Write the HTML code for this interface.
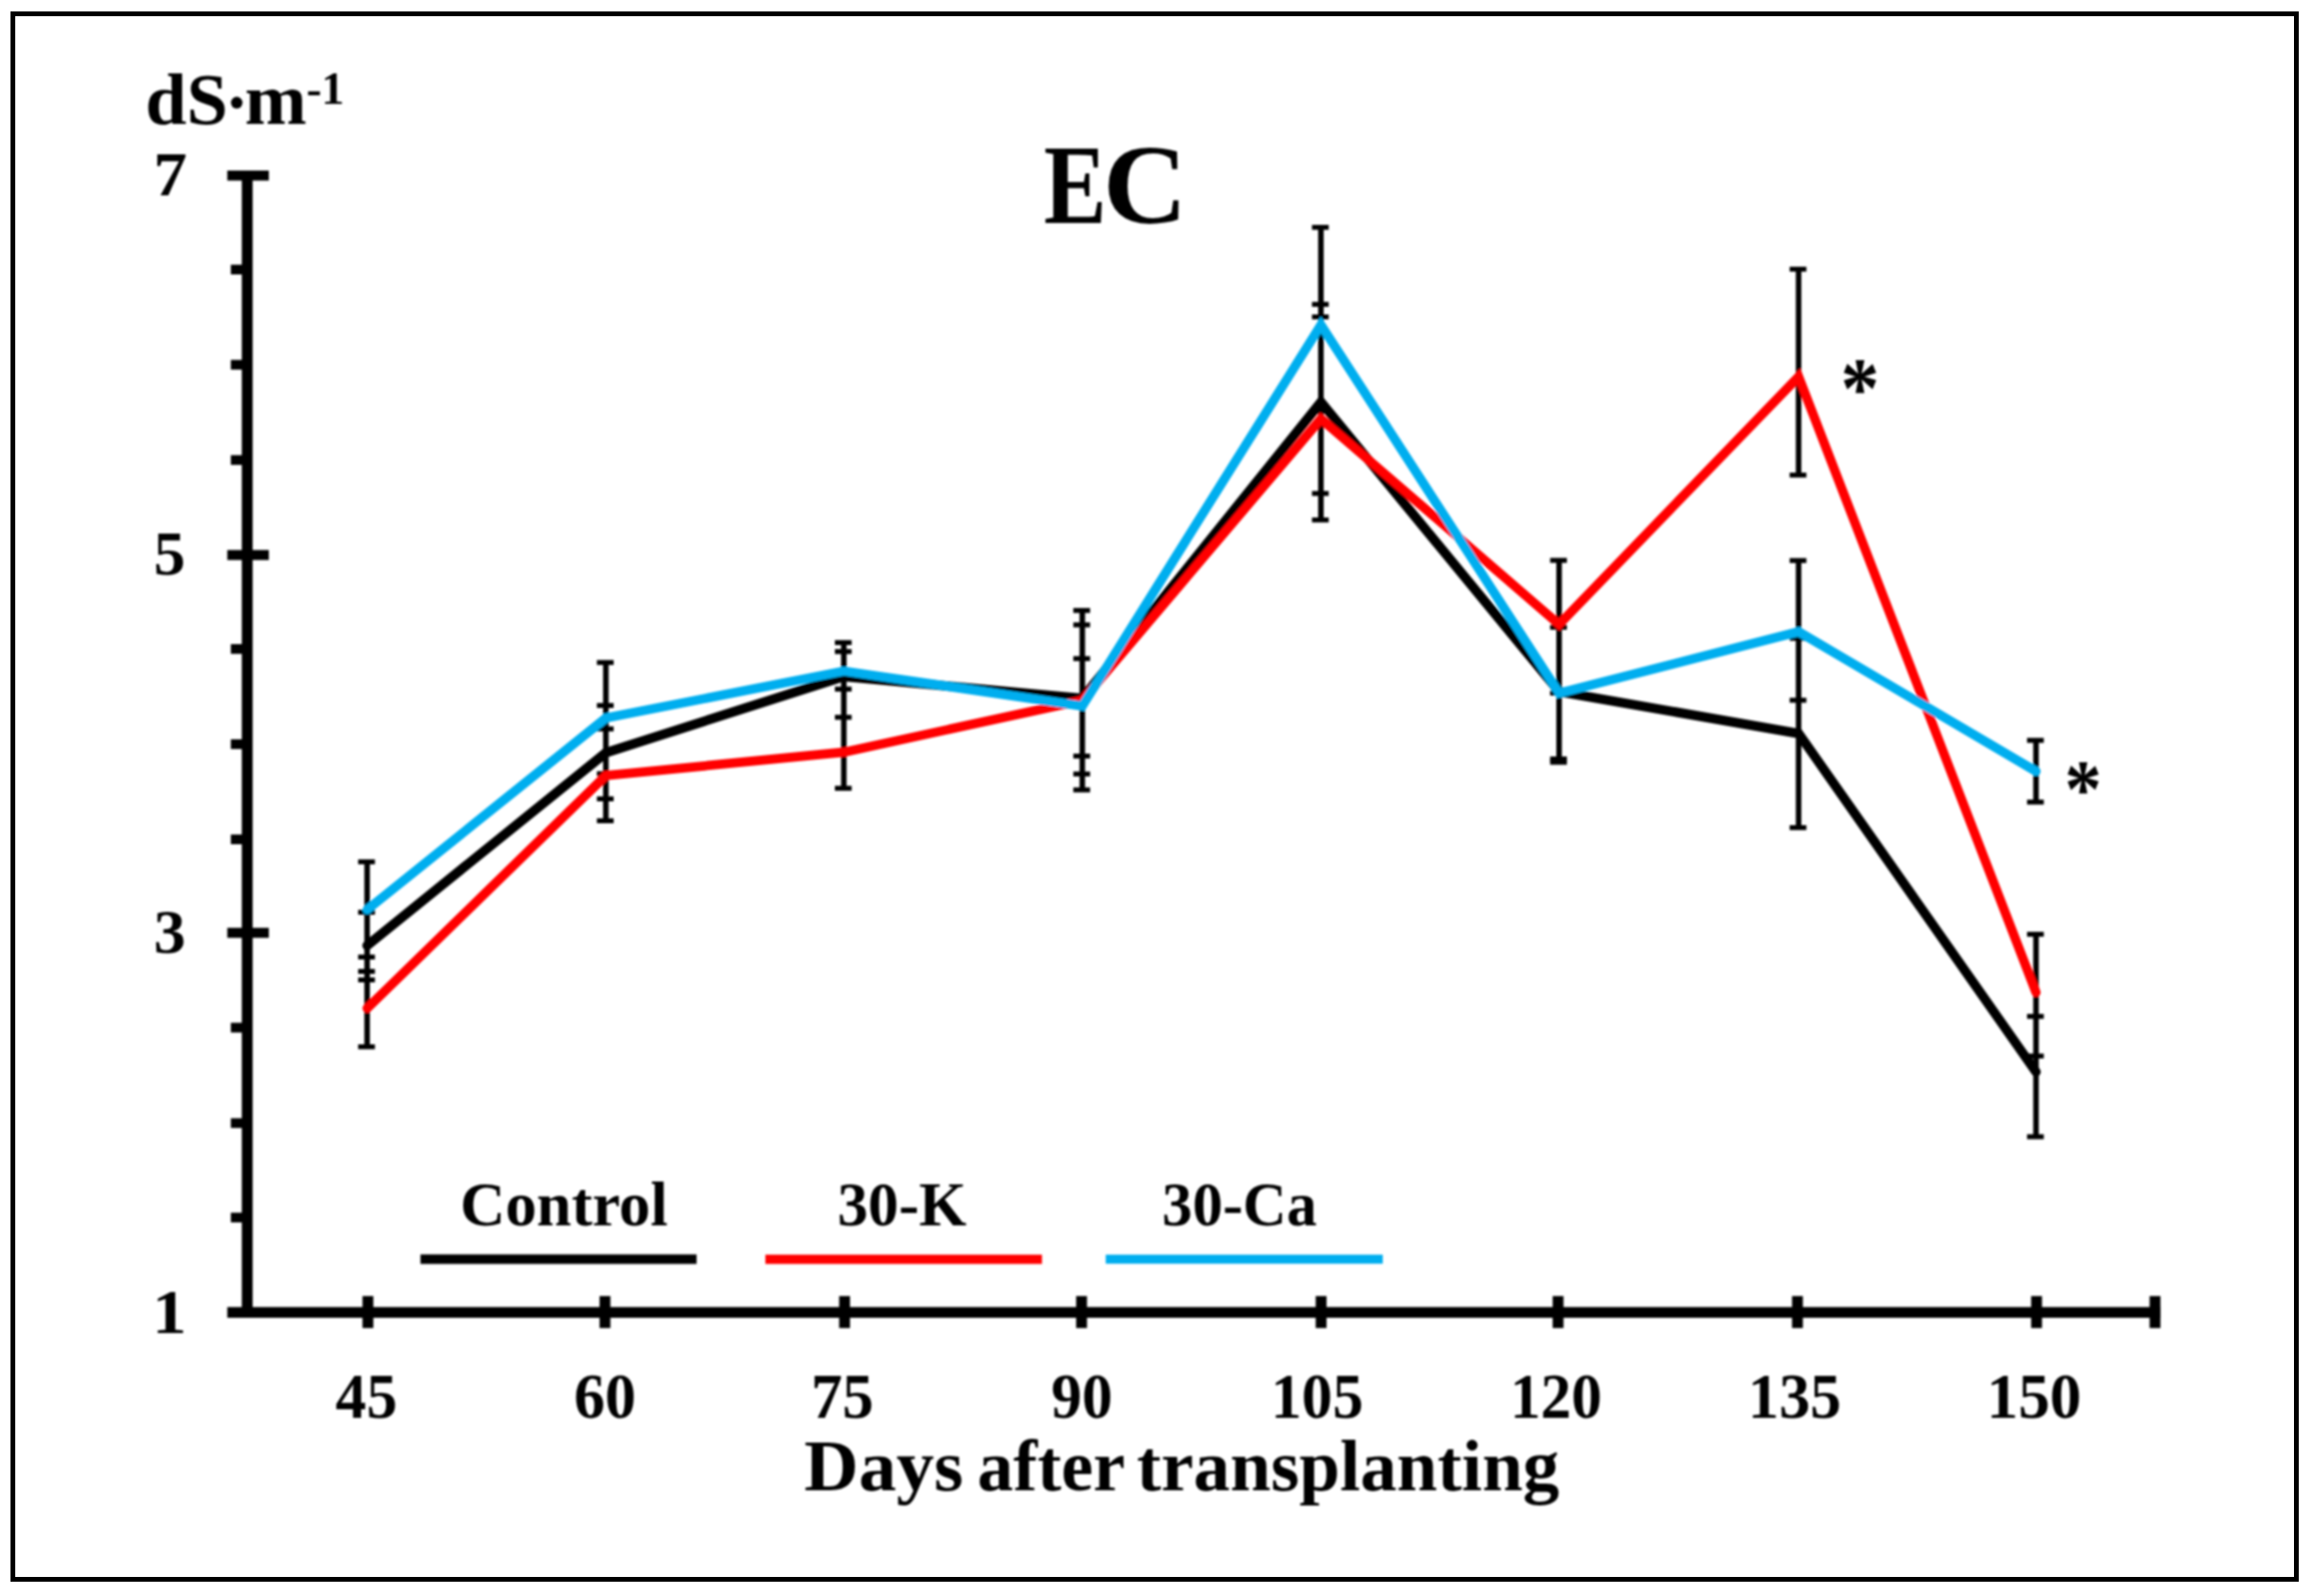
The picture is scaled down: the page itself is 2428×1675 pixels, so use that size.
<!DOCTYPE html>
<html lang="en"><head><meta charset="utf-8"><title>EC - Days after transplanting</title>
<style>
html,body{margin:0;padding:0;background:#fff;}
body{width:2428px;height:1675px;overflow:hidden;}
svg{display:block;}
text{font-family:"Liberation Serif", "DejaVu Serif", serif;font-weight:bold;fill:#000;}
</style></head><body>
<svg width="2428" height="1675" viewBox="0 0 2428 1675">
<rect x="0" y="0" width="2428" height="1675" fill="#fff"/>
<rect x="13.5" y="14.5" width="2396" height="1643" fill="none" stroke="#000" stroke-width="5"/>
<defs><filter id="soft" filterUnits="userSpaceOnUse" x="0" y="0" width="2428" height="1675"><feGaussianBlur stdDeviation="0.8"/></filter></defs>
<g filter="url(#soft)">
<g stroke="#000" fill="none">
<line x1="259.4" y1="178.9" x2="259.4" y2="1383.1" stroke-width="11.4"/>
<line x1="238.5" y1="1377.4" x2="2266.9" y2="1377.4" stroke-width="11.4"/>
<line x1="238.5" y1="184.2" x2="282.1" y2="184.2" stroke-width="10.5"/>
<line x1="238.5" y1="582.6" x2="282.1" y2="582.6" stroke-width="10.5"/>
<line x1="238.5" y1="978.9" x2="282.1" y2="978.9" stroke-width="10.5"/>
<line x1="242.2" y1="282.9" x2="259.4" y2="282.9" stroke-width="10.2"/>
<line x1="242.2" y1="382.8" x2="259.4" y2="382.8" stroke-width="10.2"/>
<line x1="242.2" y1="482.8" x2="259.4" y2="482.8" stroke-width="10.2"/>
<line x1="242.2" y1="681.1" x2="259.4" y2="681.1" stroke-width="10.2"/>
<line x1="242.2" y1="781.0" x2="259.4" y2="781.0" stroke-width="10.2"/>
<line x1="242.2" y1="880.9" x2="259.4" y2="880.9" stroke-width="10.2"/>
<line x1="242.2" y1="1078.5" x2="259.4" y2="1078.5" stroke-width="10.2"/>
<line x1="242.2" y1="1178.7" x2="259.4" y2="1178.7" stroke-width="10.2"/>
<line x1="242.2" y1="1277.8" x2="259.4" y2="1277.8" stroke-width="10.2"/>
</g>
<g stroke="#000" stroke-width="11.4" fill="none">
<line x1="386.05" y1="1360.2" x2="386.05" y2="1393.8"/>
<line x1="634.80" y1="1360.2" x2="634.80" y2="1393.8"/>
<line x1="886.20" y1="1360.2" x2="886.20" y2="1393.8"/>
<line x1="1134.85" y1="1360.2" x2="1134.85" y2="1393.8"/>
<line x1="1386.20" y1="1360.2" x2="1386.20" y2="1393.8"/>
<line x1="1634.85" y1="1360.2" x2="1634.85" y2="1393.8"/>
<line x1="1886.00" y1="1360.2" x2="1886.00" y2="1393.8"/>
<line x1="2136.90" y1="1360.2" x2="2136.90" y2="1393.8"/>
<line x1="2261.20" y1="1360.2" x2="2261.20" y2="1393.8"/>
</g>
<g stroke="#000" fill="none">
<line x1="385.2" y1="904.5" x2="385.2" y2="1098.5" stroke-width="5.8"/>
<line x1="375.8" y1="904.5" x2="393.4" y2="904.5" stroke-width="5.2"/>
<line x1="375.8" y1="957.4" x2="393.4" y2="957.4" stroke-width="5.2"/>
<line x1="375.8" y1="1004.4" x2="393.4" y2="1004.4" stroke-width="5.2"/>
<line x1="375.8" y1="1019.5" x2="393.4" y2="1019.5" stroke-width="5.2"/>
<line x1="375.8" y1="1028.4" x2="393.4" y2="1028.4" stroke-width="5.2"/>
<line x1="375.8" y1="1098.6" x2="393.4" y2="1098.6" stroke-width="5.2"/>
<line x1="635.7" y1="695.3" x2="635.7" y2="861.4" stroke-width="5.8"/>
<line x1="626.3" y1="695.3" x2="643.9" y2="695.3" stroke-width="5.2"/>
<line x1="626.3" y1="740.4" x2="643.9" y2="740.4" stroke-width="5.2"/>
<line x1="626.3" y1="765.0" x2="643.9" y2="765.0" stroke-width="5.2"/>
<line x1="626.3" y1="812.0" x2="643.9" y2="812.0" stroke-width="5.2"/>
<line x1="626.3" y1="838.4" x2="643.9" y2="838.4" stroke-width="5.2"/>
<line x1="626.3" y1="861.4" x2="643.9" y2="861.4" stroke-width="5.2"/>
<line x1="885.4" y1="674.4" x2="885.4" y2="827.3" stroke-width="5.8"/>
<line x1="876.0" y1="674.4" x2="893.6" y2="674.4" stroke-width="5.2"/>
<line x1="876.0" y1="683.8" x2="893.6" y2="683.8" stroke-width="5.2"/>
<line x1="876.0" y1="723.2" x2="893.6" y2="723.2" stroke-width="5.2"/>
<line x1="876.0" y1="752.8" x2="893.6" y2="752.8" stroke-width="5.2"/>
<line x1="876.0" y1="827.3" x2="893.6" y2="827.3" stroke-width="5.2"/>
<line x1="1135.6" y1="640.7" x2="1135.6" y2="829.0" stroke-width="5.8"/>
<line x1="1126.2" y1="640.7" x2="1143.8" y2="640.7" stroke-width="5.2"/>
<line x1="1126.2" y1="655.8" x2="1143.8" y2="655.8" stroke-width="5.2"/>
<line x1="1126.2" y1="691.2" x2="1143.8" y2="691.2" stroke-width="5.2"/>
<line x1="1126.2" y1="793.5" x2="1143.8" y2="793.5" stroke-width="5.2"/>
<line x1="1126.2" y1="812.3" x2="1143.8" y2="812.3" stroke-width="5.2"/>
<line x1="1126.2" y1="829.0" x2="1143.8" y2="829.0" stroke-width="5.2"/>
<line x1="1386.0" y1="238.6" x2="1386.0" y2="545.7" stroke-width="5.8"/>
<line x1="1376.6" y1="238.6" x2="1394.2" y2="238.6" stroke-width="5.2"/>
<line x1="1376.6" y1="319.4" x2="1394.2" y2="319.4" stroke-width="5.2"/>
<line x1="1376.6" y1="332.6" x2="1394.2" y2="332.6" stroke-width="5.2"/>
<line x1="1376.6" y1="517.9" x2="1394.2" y2="517.9" stroke-width="5.2"/>
<line x1="1376.6" y1="545.7" x2="1394.2" y2="545.7" stroke-width="5.2"/>
<line x1="1635.9" y1="588.1" x2="1635.9" y2="800.0" stroke-width="5.8"/>
<line x1="1626.5" y1="588.1" x2="1644.1" y2="588.1" stroke-width="5.2"/>
<line x1="1626.5" y1="658.3" x2="1644.1" y2="658.3" stroke-width="5.2"/>
<line x1="1626.5" y1="727.4" x2="1644.1" y2="727.4" stroke-width="5.2"/>
<line x1="1626.5" y1="796.5" x2="1644.1" y2="796.5" stroke-width="5.2"/>
<line x1="1626.5" y1="800.0" x2="1644.1" y2="800.0" stroke-width="5.2"/>
<line x1="1887.2" y1="282.5" x2="1887.2" y2="498.6" stroke-width="5.8"/>
<line x1="1877.8" y1="282.5" x2="1895.4" y2="282.5" stroke-width="5.2"/>
<line x1="1877.8" y1="498.6" x2="1895.4" y2="498.6" stroke-width="5.2"/>
<line x1="1887.2" y1="588.3" x2="1887.2" y2="868.6" stroke-width="5.8"/>
<line x1="1877.8" y1="588.3" x2="1895.4" y2="588.3" stroke-width="5.2"/>
<line x1="1877.8" y1="669.9" x2="1895.4" y2="669.9" stroke-width="5.2"/>
<line x1="1877.8" y1="734.9" x2="1895.4" y2="734.9" stroke-width="5.2"/>
<line x1="1877.8" y1="868.6" x2="1895.4" y2="868.6" stroke-width="5.2"/>
<line x1="2136.3" y1="777.0" x2="2136.3" y2="841.8" stroke-width="5.8"/>
<line x1="2126.9" y1="777.0" x2="2144.5" y2="777.0" stroke-width="5.2"/>
<line x1="2126.9" y1="841.8" x2="2144.5" y2="841.8" stroke-width="5.2"/>
<line x1="2136.3" y1="980.5" x2="2136.3" y2="1193.0" stroke-width="5.8"/>
<line x1="2126.9" y1="980.5" x2="2144.5" y2="980.5" stroke-width="5.2"/>
<line x1="2126.9" y1="1066.7" x2="2144.5" y2="1066.7" stroke-width="5.2"/>
<line x1="2126.9" y1="1108.3" x2="2144.5" y2="1108.3" stroke-width="5.2"/>
<line x1="2126.9" y1="1193.0" x2="2144.5" y2="1193.0" stroke-width="5.2"/>
</g>
<polyline points="385.2,992.3 635.7,790.0 885.4,710.0 1135.6,733.0 1386.0,422.0 1635.9,726.0 1887.2,769.7 2136.3,1125.0" fill="none" stroke="#000000" stroke-width="10.0" stroke-linejoin="miter" stroke-miterlimit="4" stroke-linecap="round"/>
<polyline points="385.2,1058.2 635.7,814.0 885.4,789.4 1135.6,735.0 1386.0,439.5 1635.9,655.3 1887.2,395.3 2136.3,1041.5" fill="none" stroke="#ff0000" stroke-width="9.7" stroke-linejoin="miter" stroke-miterlimit="4" stroke-linecap="round"/>
<polyline points="385.2,954.8 635.7,753.6 885.4,704.3 1135.6,741.0 1386.0,341.0 1635.9,727.5 1887.2,663.0 2136.3,809.5" fill="none" stroke="#00aeef" stroke-width="9.7" stroke-linejoin="miter" stroke-miterlimit="4" stroke-linecap="round"/>
<line x1="441.2" y1="1321.5" x2="730.9" y2="1321.5" stroke="#000" stroke-width="10"/>
<line x1="803.1" y1="1321.6" x2="1093.3" y2="1321.6" stroke="#ff0000" stroke-width="9.6"/>
<line x1="1160.2" y1="1321.5" x2="1450.9" y2="1321.5" stroke="#00aeef" stroke-width="9.6"/>
<text transform="matrix(0.9892 0 0 1.0000 482.71 1286.20)" font-size="66.5">Control</text>
<text transform="matrix(0.9650 0 0 1.0000 878.73 1286.30)" font-size="66.5">30-K</text>
<text transform="matrix(0.9564 0 0 1.0000 1219.36 1286.30)" font-size="66.5">30-Ca</text>
<text transform="matrix(1.0714 0 0 1.0000 160.91 205.20)" font-size="66.0">7</text>
<text transform="matrix(1.0089 0 0 1.0000 161.34 602.50)" font-size="66.0">5</text>
<text transform="matrix(1.0196 0 0 1.0000 161.31 1000.30)" font-size="66.0">3</text>
<text transform="matrix(1.0934 0 0 1.0000 159.73 1399.00)" font-size="66.0">1</text>
<text transform="matrix(0.9662 0 0 1.0000 352.03 1487.60)" font-size="67.0">45</text>
<text transform="matrix(0.9730 0 0 1.0000 602.22 1487.60)" font-size="67.0">60</text>
<text transform="matrix(0.9825 0 0 1.0000 850.88 1487.60)" font-size="67.0">75</text>
<text transform="matrix(0.9597 0 0 1.0000 1103.07 1487.60)" font-size="67.0">90</text>
<text transform="matrix(0.9645 0 0 1.0000 1333.53 1487.60)" font-size="67.0">105</text>
<text transform="matrix(0.9593 0 0 1.0000 1584.46 1487.60)" font-size="67.0">120</text>
<text transform="matrix(0.9742 0 0 1.0000 1834.08 1487.60)" font-size="67.0">135</text>
<text transform="matrix(0.9896 0 0 1.0000 2084.50 1487.60)" font-size="67.0">150</text>
<text font-size="118.0"><tspan x="1095.32" y="233.80" textLength="65.81" lengthAdjust="spacingAndGlyphs">E</tspan><tspan x="1157.37" y="233.80" textLength="88.60" lengthAdjust="spacingAndGlyphs">C</tspan></text>
<text font-size="77.0"><tspan x="843.82" y="1564.00" textLength="167.07" lengthAdjust="spacingAndGlyphs">Days</tspan> <tspan x="1025.55" y="1564.00" textLength="153.72" lengthAdjust="spacingAndGlyphs">after</tspan> <tspan x="1192.75" y="1564.00" textLength="443.46" lengthAdjust="spacingAndGlyphs">transplanting</tspan></text>
<text font-size="76.0"><tspan x="152.48" y="129.60" textLength="86.72" lengthAdjust="spacingAndGlyphs">dS</tspan><tspan x="235.88" y="133.30" textLength="24.81" lengthAdjust="spacingAndGlyphs">·</tspan><tspan x="256.85" y="129.60" textLength="65.06" lengthAdjust="spacingAndGlyphs">m</tspan><tspan x="321.42" y="109.30" font-size="48.8" textLength="39.92" lengthAdjust="spacingAndGlyphs">-1</tspan></text>
<text transform="matrix(0.8146 0 0 0.9120 1931.13 437.84)" font-size="100.0">*</text>
<text transform="matrix(0.7805 0 0 0.8773 2166.19 856.97)" font-size="100.0">*</text>
</g>
</svg>
</body></html>
